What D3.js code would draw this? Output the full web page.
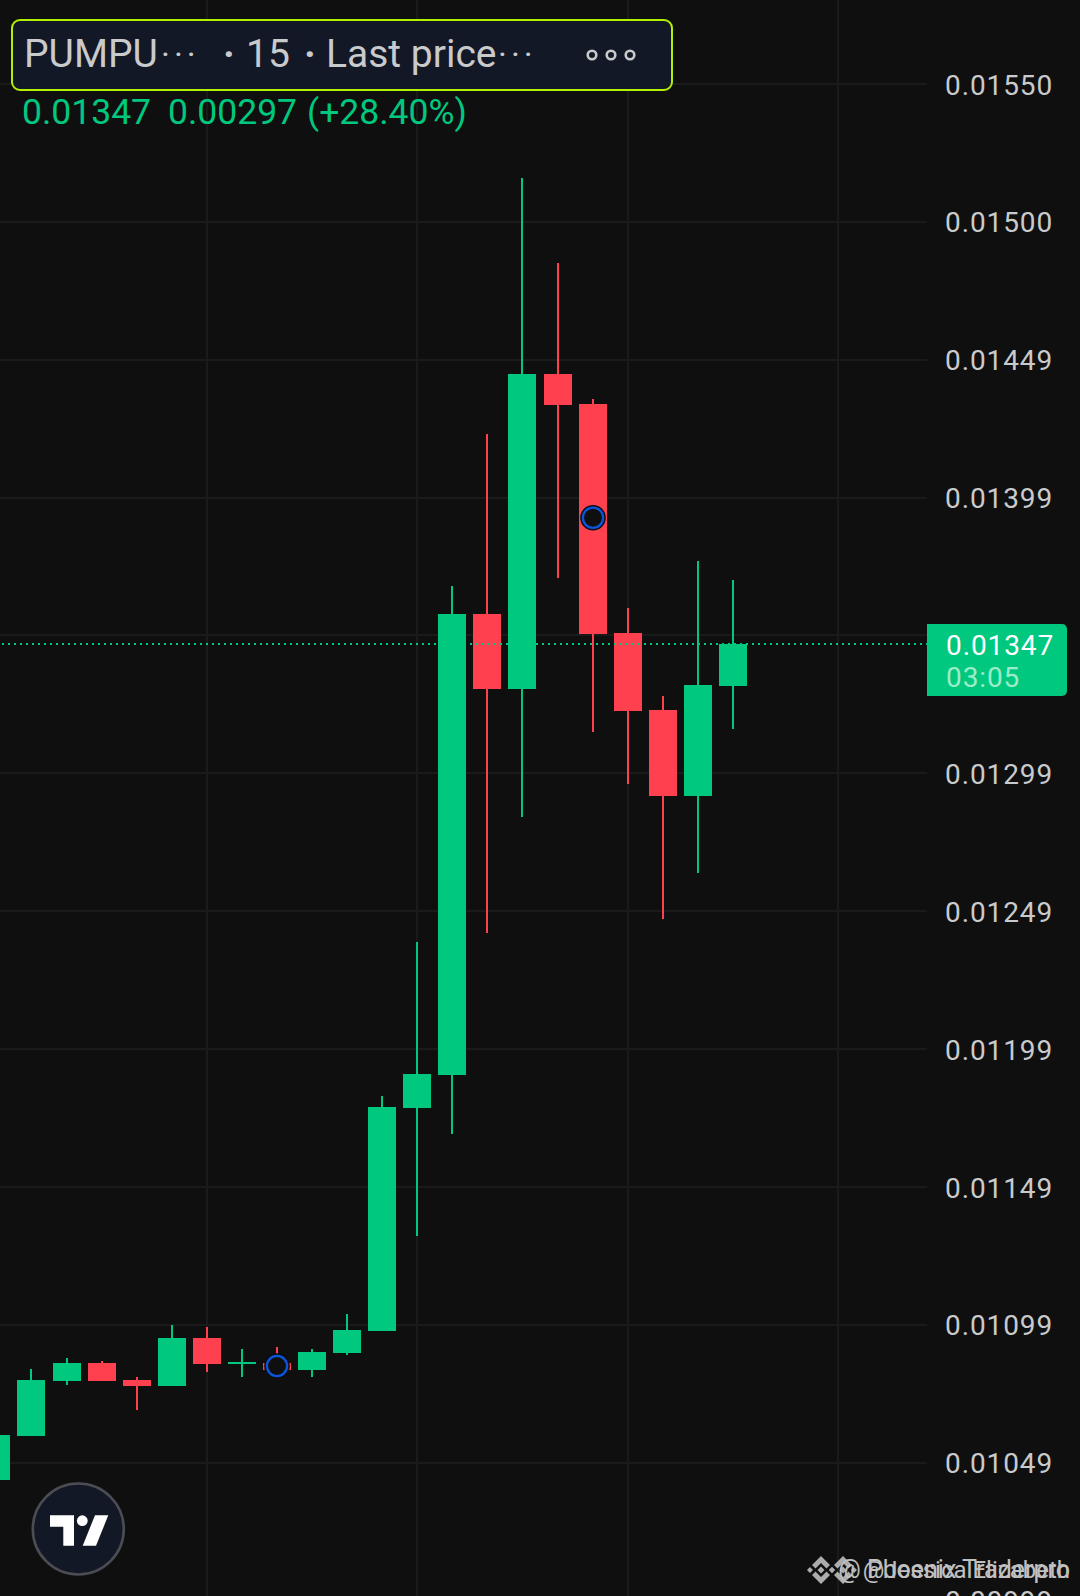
<!DOCTYPE html>
<html>
<head>
<meta charset="utf-8">
<style>
html,body{margin:0;padding:0;background:#0f0f0f;overflow:hidden}
svg{display:block;font-family:Roboto,sans-serif}
</style>
<script src="https://cdn.jsdelivr.net/npm/d3@7/dist/d3.min.js"></script>
</head>
<body>
<div id="chart"></div>
<script>
const indices = d3.range(22);
const opens  = [.0104272,.0105871,.0107870,.0108524,.0107906,.0107688,.0109432,.0108487,.0108524,.0108269,.0108887,.0109687,.0117790,.0118989,.0135741,.0133016,.0144462,.0143372,.0135050,.0132252,.0129127,.0133125];
const closes = [.0105907,.0107906,.0108524,.0107870,.0107688,.0109432,.0108487,.0108560,.0108269,.0108923,.0109723,.0117826,.0119025,.0135741,.0133016,.0144462,.0143335,.0135014,.0132216,.0129127,.0133161,.0134651];
const highs  = [.0105907,.0108306,.0108705,.0108596,.0108015,.0109905,.0109832,.0109032,.0109105,.0109032,.0110304,.0118226,.0123822,.0136758,.0142282,.0151584,.0148495,.0143554,.0135959,.0132761,.0137667,.0136976];
const lows   = [.0104272,.0105871,.0107724,.0107870,.0106816,.0107688,.0108197,.0108015,.0108269,.0108015,.0108814,.0109687,.0113139,.0116845,.0124149,.0128364,.0137049,.0131453,.0129563,.0124658,.0126329,.0131562];
const isUp   = [1,1,1,0,0,1,0,1,0,1,1,1,1,1,0,1,0,0,0,0,1,1];

const gridPrices = [.015500,.014999,.014498,.013997,.013496,.012995,.012494,.011993,.011492,.010991,.010490,.009989];
const gridLabels = ["0.01550","0.01500","0.01449","0.01399","0.01349","0.01299","0.01249","0.01199","0.01149","0.01099","0.01049","0.00999"];
const gridBars = [6,12,18,24];
const markerBars = [8,17];
const markerPrices = [.0108415,.0139240];

const headerSymbol = "PUMPU";
const headerDots = "···";
const headerInterval = "15";
const headerSource = "Last price";
const legendValues = ["0.01347","0.00297","(+28.40%)"];
const tagPrice = "0.01347";
const tagCountdown = "03:05";
const watermarks = ["@ Phoenix Traderpro","@Jessica Elizabeth"];

const W = 1080, H = 1596, PANE = 927;
const GREEN = "#00c87f", RED = "#ff404e", BG = "#0f0f0f", GRID = "#1a1a1a", TEXT = "#c9cacc";

const x = d3.scaleLinear().domain([0,21]).range([-3.622,732.89]);
const y = d3.scaleLinear().domain([.0155,.01049]).range([84,1462.7]);
const px = v => Math.round(x(v));
const py = v => Math.round(y(v));

const svg = d3.select("#chart").append("svg").attr("width",W).attr("height",H);
svg.append("rect").attr("width",W).attr("height",H).attr("fill",BG);

const grid = svg.append("g").attr("shape-rendering","crispEdges").attr("stroke",GRID).attr("stroke-width",2);
grid.selectAll("line.h").data(gridPrices).join("line").attr("class","h")
  .attr("x1",0).attr("x2",PANE).attr("y1",d=>py(d)).attr("y2",d=>py(d));
grid.selectAll("line.v").data(gridBars).join("line").attr("class","v")
  .attr("y1",0).attr("y2",H).attr("x1",d=>px(d)).attr("x2",d=>px(d));

const candles = svg.append("g").attr("shape-rendering","crispEdges");
const c = candles.selectAll("g").data(indices).join("g").attr("fill",i=>isUp[i]?GREEN:RED);
c.append("rect")
  .attr("x",i=>px(i)-1).attr("width",2)
  .attr("y",i=>py(highs[i])).attr("height",i=>py(lows[i])-py(highs[i]));
c.append("rect")
  .attr("x",i=>px(i)-14).attr("width",28)
  .attr("y",i=>py(Math.max(opens[i],closes[i])))
  .attr("height",i=>Math.max(2,py(Math.min(opens[i],closes[i]))-py(Math.max(opens[i],closes[i]))));

svg.append("line").attr("x1",2).attr("x2",PANE)
  .attr("y1",py(closes[21])).attr("y2",py(closes[21]))
  .attr("stroke",GREEN).attr("stroke-width",2).attr("stroke-dasharray","2 4")
  .attr("shape-rendering","crispEdges");

const markers = svg.append("g").selectAll("g").data(markerBars).join("g")
  .attr("transform",(d,i)=>`translate(${px(d)},${y(markerPrices[i])})`);
markers.append("circle").attr("r",12.8).attr("fill","#0b0d12");
markers.append("circle").attr("r",10.1).attr("fill",BG).attr("stroke","#0b55dc").attr("stroke-width",2.3);

const axis = d3.axisRight(y).tickValues(gridPrices).tickSize(0).tickPadding(0)
  .tickFormat((d,i)=>gridLabels[i]);
const ax = svg.append("g").attr("transform","translate(945,0)").call(axis);
ax.select(".domain").remove();
ax.selectAll("text").attr("fill",TEXT).attr("font-size",28).attr("dy","0.36em")
  .attr("letter-spacing",0.9).attr("font-family","Roboto,sans-serif");

// last-price tag
svg.append("path").attr("fill",GREEN)
  .attr("d","M927,624H1062a5,5 0 0 1 5,5V691a5,5 0 0 1 -5,5H927Z");
svg.append("text").attr("x",946).attr("y",655).attr("fill","#fff").attr("font-size",28).attr("letter-spacing",0.9).text(tagPrice);
svg.append("text").attr("x",946).attr("y",687).attr("fill","#9cecca").attr("font-size",28).attr("letter-spacing",0.9).text(tagCountdown);

// header box
svg.append("rect").attr("x",12).attr("y",20).attr("width",660).attr("height",70).attr("rx",8)
  .attr("fill","#131826").attr("stroke","#b2f000").attr("stroke-width",2);
const head = svg.append("g").attr("fill",TEXT).attr("font-size",39);
head.append("text").attr("x",24).attr("y",67).text(headerSymbol);
head.append("text").attr("x",161).attr("y",66).attr("font-size",34).attr("letter-spacing",4).text(headerDots);
head.append("text").attr("x",223).attr("y",67).attr("font-weight",700).text("·");
head.append("text").attr("x",246).attr("y",67).text(headerInterval);
head.append("text").attr("x",304).attr("y",67).attr("font-weight",700).text("·");
head.append("text").attr("x",326).attr("y",67).text(headerSource);
head.append("text").attr("x",498).attr("y",66).attr("font-size",34).attr("letter-spacing",4).text(headerDots);
svg.append("g").selectAll("circle").data([592,611,630]).join("circle")
  .attr("cx",d=>d).attr("cy",55).attr("r",4.3).attr("fill","none").attr("stroke",TEXT).attr("stroke-width",2.6);

// legend line
const legendX = [22,168,307];
svg.append("g").attr("fill",GREEN).attr("font-size",35.5).selectAll("text").data(legendValues).join("text")
  .attr("x",(d,i)=>legendX[i]).attr("y",124).text(d=>d);

// TradingView badge
const badge = svg.append("g").attr("transform","translate(0,1280)");
badge.append("circle").attr("cx",78.3).attr("cy",249).attr("r",45.5).attr("fill","#131826").attr("stroke","#4b4d53").attr("stroke-width",2.6);
badge.append("path").attr("fill","#fff").attr("d","M50,235.3H74V265.7H63.3V246.7H50Z");
badge.append("circle").attr("cx",82.3).attr("cy",240.7).attr("r",5.4).attr("fill","#fff");
badge.append("path").attr("fill","#fff").attr("d","M95,235.3H108.3L96,265.7H82.7Z");

// watermark (two overlapping layers)
const binance = "M0,-14L9,-5L5.5,-1.5L0,-7L-5.5,-1.5L-9,-5ZM0,14L9,5L5.5,1.5L0,7L-5.5,1.5L-9,5ZM0,-3.5L3.5,0L0,3.5L-3.5,0ZM-11,-3L-8,0L-11,3L-14,0ZM11,-3L14,0L11,3L8,0Z";
const wm = svg.append("g").attr("opacity",0.85);
[843,821].forEach(cx=>{
  wm.append("path").attr("d",binance).attr("fill","#c8c8c8").attr("transform",`translate(${cx},1570)`);
});
const wmSizes = [25,24];
wm.selectAll("text").data(watermarks).join("text")
  .attr("x",1070).attr("y",1578).attr("text-anchor","end").attr("fill","#e0e0e0")
  .attr("font-size",(d,i)=>wmSizes[i]).text(d=>d);
</script>
</body>
</html>
